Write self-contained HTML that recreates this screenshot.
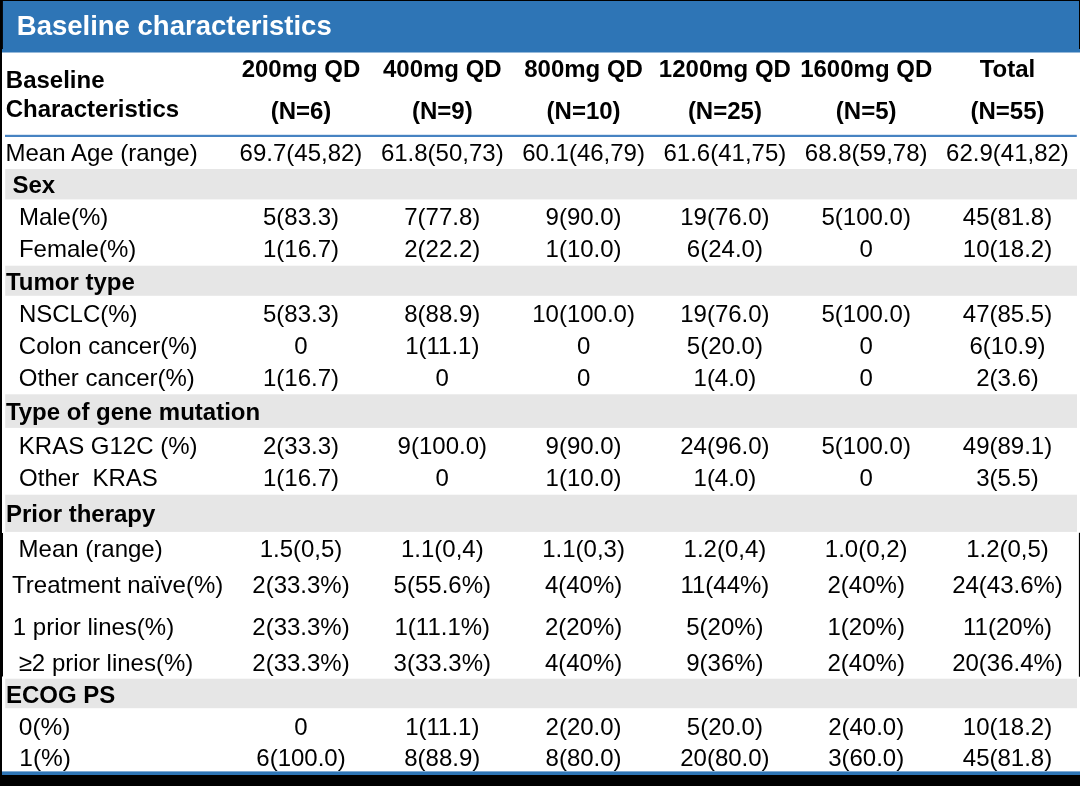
<!DOCTYPE html>
<html><head><meta charset="utf-8"><title>Baseline characteristics</title>
<style>
html,body{margin:0;padding:0;background:#fff;}
body{width:1080px;height:786px;position:relative;overflow:hidden;font-family:"Liberation Sans",sans-serif;color:#000;}
.t{position:absolute;white-space:nowrap;font-size:24px;line-height:28px;height:28px;}
.c{text-align:center;width:200px;}
.b{font-weight:bold;}
.n{font-size:24px;}
.r{position:absolute;}
#w{position:absolute;left:0;top:0;width:1080px;height:786px;will-change:transform;}
</style></head><body><div id="w">

<svg class="r" style="left:0;top:0" width="1080" height="786" viewBox="0 0 1080 786"><rect x="0" y="0" width="1080" height="52.5" fill="#2e75b6"/><rect x="5.2" y="169" width="1071.8" height="30.4" fill="#e6e6e6"/><rect x="5.2" y="265.7" width="1071.8" height="30.1" fill="#e6e6e6"/><rect x="5.2" y="394.3" width="1071.8" height="33.6" fill="#e6e6e6"/><rect x="5.2" y="494.7" width="1071.8" height="37.2" fill="#e6e6e6"/><rect x="5.2" y="678.7" width="1071.8" height="29.5" fill="#e6e6e6"/><rect x="5" y="134.8" width="1071.8" height="2.2" fill="#4783c2"/><rect x="0" y="771.4" width="1080" height="3.6" fill="#2e75b6"/><rect x="0" y="775" width="1080" height="11" fill="#000"/><rect x="0" y="0" width="1080" height="1" fill="#000"/><rect x="0" y="0" width="2.9" height="49" fill="#000"/><rect x="0" y="49" width="2" height="737" fill="#000"/><rect x="0" y="533" width="3" height="143.5" fill="#000"/><rect x="1079" y="0" width="1" height="49" fill="#000"/><rect x="1078.9" y="532.8" width="1.1" height="143.9" fill="#000"/></svg>
<div class="t b" style="left:16.8px;top:8.57125px;font-size:27.5px;line-height:34px;height:34px;color:#fff">Baseline characteristics</div>
<div class="t b" style="left:5.8px;top:66px">Baseline</div>
<div class="t b" style="left:5.7px;top:95px">Characteristics</div>
<div class="t b c" style="left:201px;top:55px">200mg QD</div>
<div class="t b c" style="left:201px;top:97px">(N=6)</div>
<div class="t b c" style="left:342.3px;top:55px">400mg QD</div>
<div class="t b c" style="left:342.3px;top:97px">(N=9)</div>
<div class="t b c" style="left:483.6px;top:55px">800mg QD</div>
<div class="t b c" style="left:483.6px;top:97px">(N=10)</div>
<div class="t b c" style="left:624.9px;top:55px">1200mg QD</div>
<div class="t b c" style="left:624.9px;top:97px">(N=25)</div>
<div class="t b c" style="left:766.2px;top:55px">1600mg QD</div>
<div class="t b c" style="left:766.2px;top:97px">(N=5)</div>
<div class="t b c" style="left:907.5px;top:55px">Total</div>
<div class="t b c" style="left:907.5px;top:97px">(N=55)</div>
<div class="t n" style="left:5.5px;top:139px">Mean Age (range)</div>
<div class="t c n" style="left:201px;top:139px">69.7(45,82)</div>
<div class="t c n" style="left:342.3px;top:139px">61.8(50,73)</div>
<div class="t c n" style="left:483.6px;top:139px">60.1(46,79)</div>
<div class="t c n" style="left:624.9px;top:139px">61.6(41,75)</div>
<div class="t c n" style="left:766.2px;top:139px">68.8(59,78)</div>
<div class="t c n" style="left:907.5px;top:139px">62.9(41,82)</div>
<div class="t b" style="left:12.4px;top:171px">Sex</div>
<div class="t n" style="left:18.9px;top:203px">Male(%)</div>
<div class="t c n" style="left:201px;top:203px">5(83.3)</div>
<div class="t c n" style="left:342.3px;top:203px">7(77.8)</div>
<div class="t c n" style="left:483.6px;top:203px">9(90.0)</div>
<div class="t c n" style="left:624.9px;top:203px">19(76.0)</div>
<div class="t c n" style="left:766.2px;top:203px">5(100.0)</div>
<div class="t c n" style="left:907.5px;top:203px">45(81.8)</div>
<div class="t n" style="left:18.9px;top:235px">Female(%)</div>
<div class="t c n" style="left:201px;top:235px">1(16.7)</div>
<div class="t c n" style="left:342.3px;top:235px">2(22.2)</div>
<div class="t c n" style="left:483.6px;top:235px">1(10.0)</div>
<div class="t c n" style="left:624.9px;top:235px">6(24.0)</div>
<div class="t c n" style="left:766.2px;top:235px">0</div>
<div class="t c n" style="left:907.5px;top:235px">10(18.2)</div>
<div class="t b" style="left:5.9px;top:268px">Tumor type</div>
<div class="t n" style="left:18.9px;top:300px">NSCLC(%)</div>
<div class="t c n" style="left:201px;top:300px">5(83.3)</div>
<div class="t c n" style="left:342.3px;top:300px">8(88.9)</div>
<div class="t c n" style="left:483.6px;top:300px">10(100.0)</div>
<div class="t c n" style="left:624.9px;top:300px">19(76.0)</div>
<div class="t c n" style="left:766.2px;top:300px">5(100.0)</div>
<div class="t c n" style="left:907.5px;top:300px">47(85.5)</div>
<div class="t n" style="left:18.8px;top:332px">Colon cancer(%)</div>
<div class="t c n" style="left:201px;top:332px">0</div>
<div class="t c n" style="left:342.3px;top:332px">1(11.1)</div>
<div class="t c n" style="left:483.6px;top:332px">0</div>
<div class="t c n" style="left:624.9px;top:332px">5(20.0)</div>
<div class="t c n" style="left:766.2px;top:332px">0</div>
<div class="t c n" style="left:907.5px;top:332px">6(10.9)</div>
<div class="t n" style="left:18.8px;top:364px">Other cancer(%)</div>
<div class="t c n" style="left:201px;top:364px">1(16.7)</div>
<div class="t c n" style="left:342.3px;top:364px">0</div>
<div class="t c n" style="left:483.6px;top:364px">0</div>
<div class="t c n" style="left:624.9px;top:364px">1(4.0)</div>
<div class="t c n" style="left:766.2px;top:364px">0</div>
<div class="t c n" style="left:907.5px;top:364px">2(3.6)</div>
<div class="t b" style="left:5.9px;top:398px">Type of gene mutation</div>
<div class="t n" style="left:18.8px;top:432px">KRAS G12C (%)</div>
<div class="t c n" style="left:201px;top:432px">2(33.3)</div>
<div class="t c n" style="left:342.3px;top:432px">9(100.0)</div>
<div class="t c n" style="left:483.6px;top:432px">9(90.0)</div>
<div class="t c n" style="left:624.9px;top:432px">24(96.0)</div>
<div class="t c n" style="left:766.2px;top:432px">5(100.0)</div>
<div class="t c n" style="left:907.5px;top:432px">49(89.1)</div>
<div class="t n" style="left:19.1px;top:464px">Other&nbsp; KRAS</div>
<div class="t c n" style="left:201px;top:464px">1(16.7)</div>
<div class="t c n" style="left:342.3px;top:464px">0</div>
<div class="t c n" style="left:483.6px;top:464px">1(10.0)</div>
<div class="t c n" style="left:624.9px;top:464px">1(4.0)</div>
<div class="t c n" style="left:766.2px;top:464px">0</div>
<div class="t c n" style="left:907.5px;top:464px">3(5.5)</div>
<div class="t b" style="left:6px;top:500px">Prior therapy</div>
<div class="t n" style="left:18.6px;top:535px">Mean (range)</div>
<div class="t c n" style="left:201px;top:535px">1.5(0,5)</div>
<div class="t c n" style="left:342.3px;top:535px">1.1(0,4)</div>
<div class="t c n" style="left:483.6px;top:535px">1.1(0,3)</div>
<div class="t c n" style="left:624.9px;top:535px">1.2(0,4)</div>
<div class="t c n" style="left:766.2px;top:535px">1.0(0,2)</div>
<div class="t c n" style="left:907.5px;top:535px">1.2(0,5)</div>
<div class="t n" style="left:12.1px;top:571px">Treatment na&iuml;ve(%)</div>
<div class="t c n" style="left:201px;top:571px">2(33.3%)</div>
<div class="t c n" style="left:342.3px;top:571px">5(55.6%)</div>
<div class="t c n" style="left:483.6px;top:571px">4(40%)</div>
<div class="t c n" style="left:624.9px;top:571px">11(44%)</div>
<div class="t c n" style="left:766.2px;top:571px">2(40%)</div>
<div class="t c n" style="left:907.5px;top:571px">24(43.6%)</div>
<div class="t n" style="left:12.8px;top:613px">1 prior lines(%)</div>
<div class="t c n" style="left:201px;top:613px">2(33.3%)</div>
<div class="t c n" style="left:342.3px;top:613px">1(11.1%)</div>
<div class="t c n" style="left:483.6px;top:613px">2(20%)</div>
<div class="t c n" style="left:624.9px;top:613px">5(20%)</div>
<div class="t c n" style="left:766.2px;top:613px">1(20%)</div>
<div class="t c n" style="left:907.5px;top:613px">11(20%)</div>
<div class="t n" style="left:18.7px;top:649px">&ge;2 prior lines(%)</div>
<div class="t c n" style="left:201px;top:649px">2(33.3%)</div>
<div class="t c n" style="left:342.3px;top:649px">3(33.3%)</div>
<div class="t c n" style="left:483.6px;top:649px">4(40%)</div>
<div class="t c n" style="left:624.9px;top:649px">9(36%)</div>
<div class="t c n" style="left:766.2px;top:649px">2(40%)</div>
<div class="t c n" style="left:907.5px;top:649px">20(36.4%)</div>
<div class="t b" style="left:5.9px;top:681px">ECOG PS</div>
<div class="t n" style="left:18.8px;top:713px;font-size:24.5px">0(%)</div>
<div class="t c n" style="left:201px;top:713px">0</div>
<div class="t c n" style="left:342.3px;top:713px">1(11.1)</div>
<div class="t c n" style="left:483.6px;top:713px">2(20.0)</div>
<div class="t c n" style="left:624.9px;top:713px">5(20.0)</div>
<div class="t c n" style="left:766.2px;top:713px">2(40.0)</div>
<div class="t c n" style="left:907.5px;top:713px">10(18.2)</div>
<div class="t n" style="left:19.3px;top:744px;font-size:24.5px">1(%)</div>
<div class="t c n" style="left:201px;top:744px">6(100.0)</div>
<div class="t c n" style="left:342.3px;top:744px">8(88.9)</div>
<div class="t c n" style="left:483.6px;top:744px">8(80.0)</div>
<div class="t c n" style="left:624.9px;top:744px">20(80.0)</div>
<div class="t c n" style="left:766.2px;top:744px">3(60.0)</div>
<div class="t c n" style="left:907.5px;top:744px">45(81.8)</div>
</div></body></html>
